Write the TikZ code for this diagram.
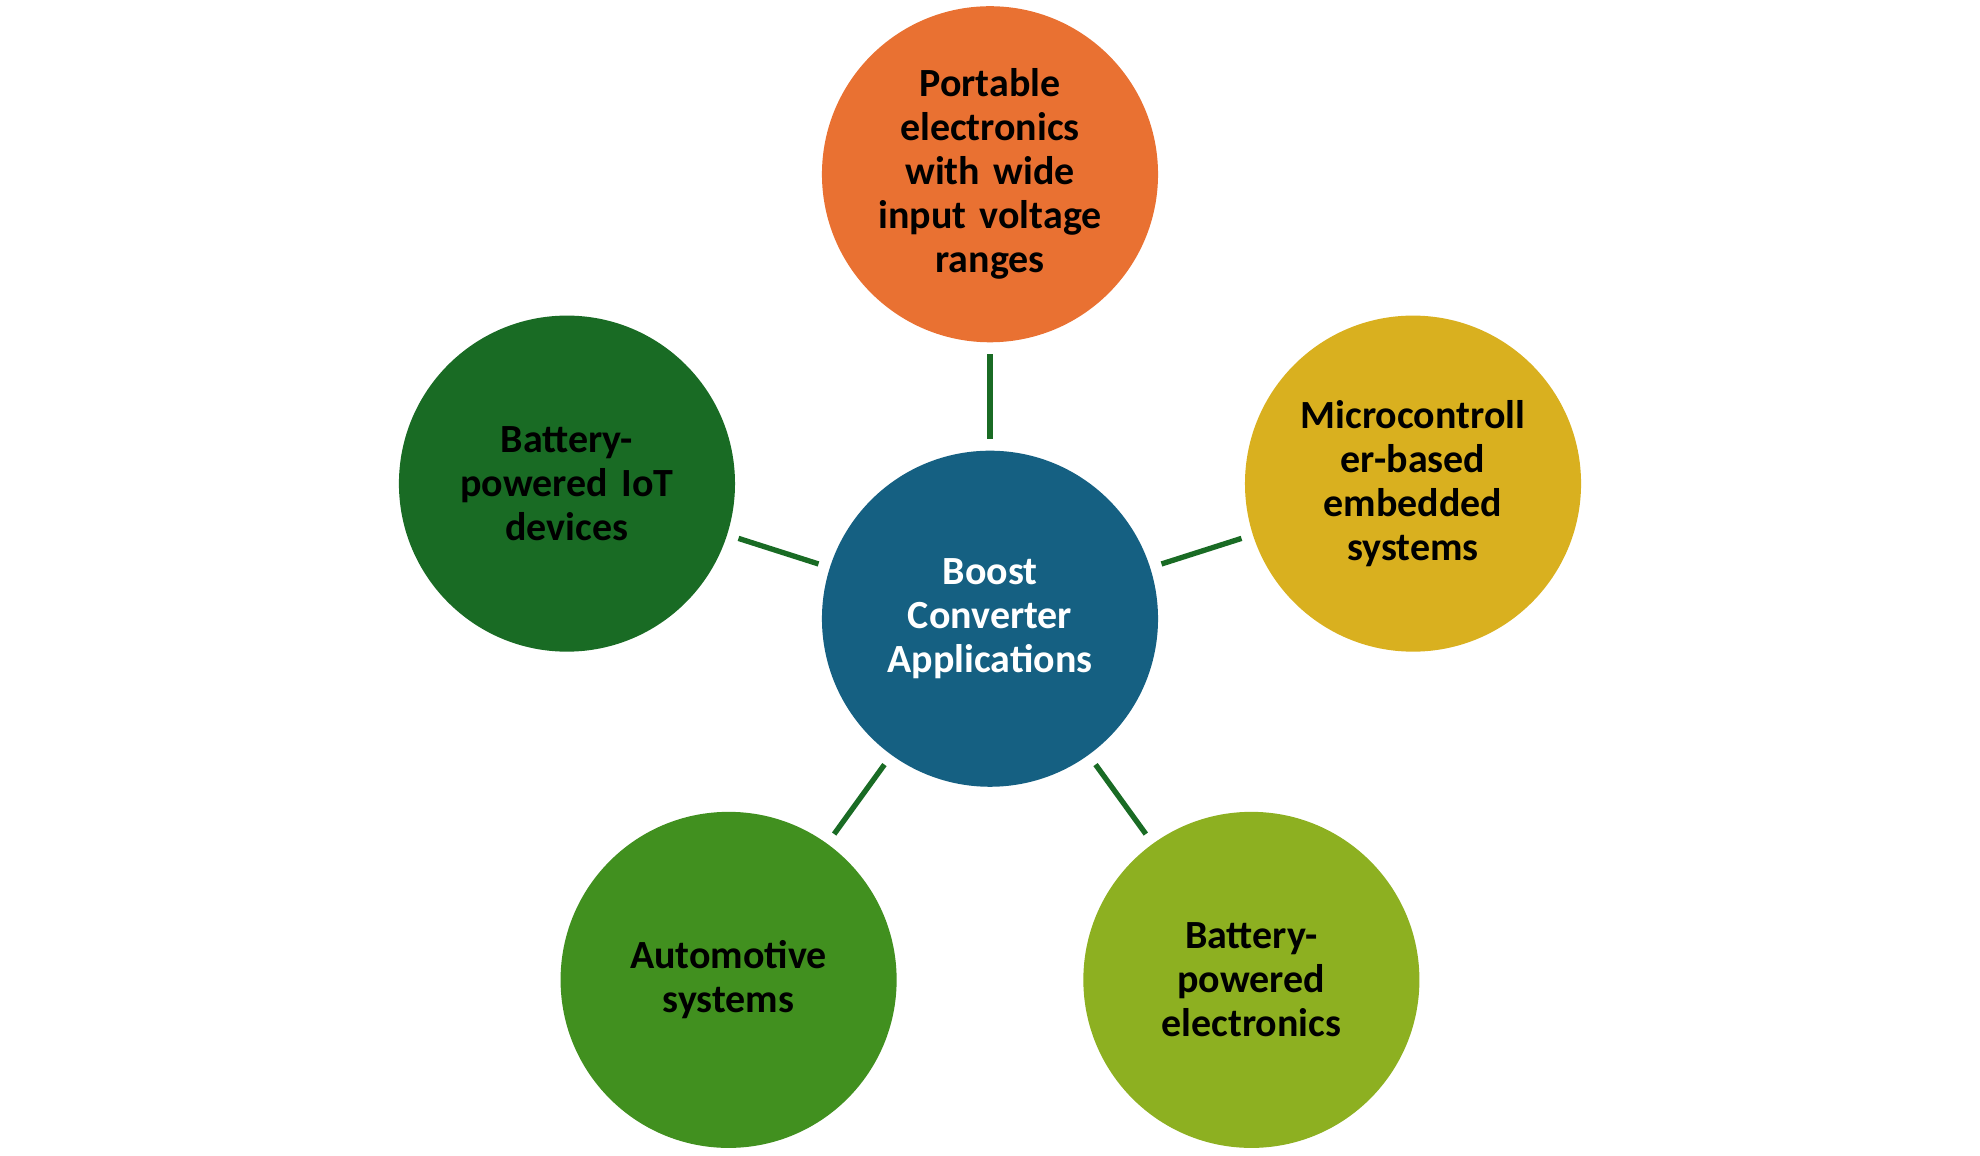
\documentclass[tikz,border=0pt]{standalone}
\usepackage{fontspec}
\setmainfont{Carlito}
\usetikzlibrary{positioning,calc}
\definecolor{hubblue}{HTML}{156082}
\definecolor{apporange}{HTML}{E97132}
\definecolor{appgold}{HTML}{D9B01F}
\definecolor{appolive}{HTML}{8DB021}
\definecolor{appgreen}{HTML}{41901F}
\definecolor{appdark}{HTML}{196B24}
\tikzset{
	bubble/.style={circle,minimum size=2.66cm,inner sep=0pt,text width=1.9cm,align=center,
		font=\fontsize{9}{9.9}\selectfont\bfseries},
	spoke/.style={draw=appdark,line width=1.2pt,shorten <=2.5pt,shorten >=2.5pt}
}
\begin{document}
\begin{tikzpicture}[x=0.01cm,y=0.01cm]
	\useasboundingbox (0,0) rectangle (1568,915);
	\node[bubble,fill=hubblue,text=white] (hub) at (784,425) {Boost\\Converter\\Applications};
	\node[bubble,fill=apporange] (portable) at (784,777) {Portable\\electronics\\with wide\\input voltage\\ranges};
	\node[bubble,fill=appgold] (micro) at (1119,532) {Microcontroll\\er-based\\embedded\\systems};
	\node[bubble,fill=appolive] (battery) at (991,139) {Battery-\\powered\\electronics};
	\node[bubble,fill=appgreen] (auto) at (577,139) {Automotive\\systems};
	\node[bubble,fill=appdark] (iot) at (449,532) {Battery-\\powered IoT\\devices};
	% spokes
	\foreach \leaf in {portable,micro,battery,auto,iot}
		\draw[spoke] (hub) -- (\leaf);
\end{tikzpicture}
\end{document}
